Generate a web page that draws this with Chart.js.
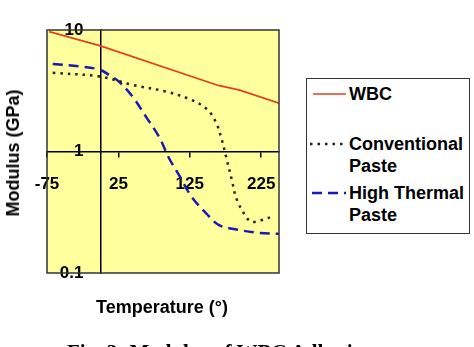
<!DOCTYPE html>
<html><head><meta charset="utf-8">
<script src="https://cdn.jsdelivr.net/npm/chart.js@4/dist/chart.umd.min.js"></script>
<style>
html,body{margin:0;padding:0;background:#fff;width:474px;height:347px;overflow:hidden;font-family:'Liberation Sans',Arial,sans-serif;}
#wrap{position:relative;width:474px;height:347px;}
#c{position:absolute;left:0;top:0;}
.t{position:absolute;font-weight:bold;color:#000;white-space:nowrap;font-size:18px;line-height:20px;}
#ytitle{left:13px;top:153px;transform:translate(-50%,-50%) rotate(-90deg);}
#xtitle{left:162px;top:307px;transform:translate(-50%,-50%);}
#legend{position:absolute;left:306px;top:78px;width:164px;height:156px;border:1px solid #333;background:#fff;box-sizing:border-box;}
#legend svg{position:absolute;left:0;top:0;}
.lt{position:absolute;left:42px;font-weight:bold;font-size:18px;line-height:20px;color:#000;white-space:nowrap;transform:translateY(-50%);}
#caption{position:absolute;left:67px;top:342px;font-family:'Liberation Serif','Times New Roman',serif;font-weight:bold;font-size:21px;line-height:1;color:#000;white-space:nowrap;}
</style></head>
<body><div id="wrap">
<canvas id="c" width="474" height="347"></canvas>
<div class="t" id="ytitle">Modulus (GPa)</div>
<div class="t" id="xtitle">Temperature (°)</div>
<div id="legend">
<svg width="164" height="156">
<line x1="6" y1="15" x2="39" y2="15" stroke="#e0401e" stroke-width="1.5"/>
<line x1="3" y1="65" x2="39" y2="65" stroke="#222" stroke-width="2.5" stroke-dasharray="2.5,5"/>
<line x1="5" y1="114" x2="39" y2="114" stroke="#1a1ab0" stroke-width="2.5" stroke-dasharray="10,6"/>
</svg>
<div class="lt" id="l1" style="top:15px"></div>
<div class="lt" id="l2" style="top:65px"></div>
<div class="lt" id="l3" style="top:87px"></div>
<div class="lt" id="l4" style="top:114px"></div>
<div class="lt" id="l5" style="top:136px"></div>
</div>
<div id="caption">Fig. 3: Modulus of WBC Adhesives</div>
</div>
<script>
// ---- data ----
const seriesNames = ["WBC", "Conventional Paste", "High Thermal Paste"];
const wbcTemp = [-72, 0, 165, 195, 250];
const wbcModulus = [9.7, 7.4, 3.5, 3.2, 2.5];
const convTemp = [-67, 0, 45, 92, 128, 150, 162, 170, 176, 184, 191, 204, 212, 226, 243];
const convModulus = [4.45, 4.13, 3.53, 3.11, 2.65, 2.2, 1.72, 1.24, 0.9, 0.58, 0.4, 0.29, 0.263, 0.273, 0.295];
const highTemp = [-67, -25, 0, 12, 26, 45, 64, 82, 96, 110, 128, 148, 166, 194, 222, 250];
const highModulus = [5.25, 4.99, 4.69, 4.26, 3.75, 2.82, 1.92, 1.32, 0.88, 0.64, 0.42, 0.31, 0.248, 0.226, 0.214, 0.21];
const xTicks = [-75, 25, 125, 225];
const yTicks = [0.1, 1, 10];
const yTickLabels = ["0.1", "1", "10"];

document.getElementById('l1').textContent = "WBC";
document.getElementById('l2').textContent = "Conventional";
document.getElementById('l3').textContent = "Paste";
document.getElementById('l4').textContent = "High Thermal";
document.getElementById('l5').textContent = "Paste";

const pts = (xs, ys) => xs.map((x, i) => ({x: x, y: ys[i]}));

const plotBg = {
  id: 'plotBg',
  beforeDraw(chart) {
    const {ctx, chartArea: a} = chart;
    ctx.save();
    ctx.fillStyle = '#ffff9e';
    ctx.fillRect(a.left, a.top, a.right - a.left, a.bottom - a.top);
    ctx.restore();
  },
  afterDraw(chart) {
    const {ctx, chartArea: a} = chart;
    ctx.save();
    ctx.strokeStyle = '#333';
    ctx.lineWidth = 1.5;
    ctx.strokeRect(a.left, a.top, a.right - a.left, a.bottom - a.top);
    ctx.restore();
  }
};

const tickFont = {family: "'Liberation Sans', Arial, sans-serif", size: 17, weight: 'bold'};

new Chart(document.getElementById('c'), {
  type: 'line',
  data: {
    datasets: [
      {label: seriesNames[0], data: pts(wbcTemp, wbcModulus), borderColor: '#e0401e', borderWidth: 1.6, pointRadius: 0, tension: 0, xAxisID: 'x', yAxisID: 'y'},
      {label: seriesNames[1], data: pts(convTemp, convModulus), borderColor: '#222', borderWidth: 2.5, borderDash: [2.5, 5], pointRadius: 0, tension: 0.35, xAxisID: 'x', yAxisID: 'y'},
      {label: seriesNames[2], data: pts(highTemp, highModulus), borderColor: '#1a1ab0', borderWidth: 2.5, borderDash: [10, 6], pointRadius: 0, tension: 0.35, xAxisID: 'x', yAxisID: 'y'}
    ]
  },
  options: {
    responsive: false,
    animation: false,
    devicePixelRatio: 1,
    layout: {padding: {left: 47, top: 30, right: 195, bottom: 74}},
    plugins: {legend: {display: false}, tooltip: {enabled: false}},
    scales: {
      x: {
        type: 'linear', min: -75, max: 250,
        position: {y: 1},
        afterBuildTicks: s => { s.ticks = xTicks.map(v => ({value: v})); },
        grid: {drawOnChartArea: false, drawTicks: true, tickLength: 5, color: '#000', lineWidth: 1.5},
        border: {display: true, color: '#000', width: 1.5},
        ticks: {font: tickFont, color: '#000', padding: 18, maxRotation: 0, autoSkip: false}
      },
      y: {
        type: 'logarithmic', min: 0.1, max: 10,
        position: {x: -24},
        afterBuildTicks: s => { s.ticks = yTicks.map(v => ({value: v})); },
        grid: {display: false, drawTicks: false},
        border: {display: false},
        ticks: {font: tickFont, color: '#000', padding: 0, autoSkip: false,
          callback: (v) => { const i = yTicks.indexOf(v); return i >= 0 ? yTickLabels[i] : ''; }}
      },
      yLine: {
        type: 'logarithmic', min: 0.1, max: 10,
        position: {x: 0},
        grid: {drawOnChartArea: false, drawTicks: false},
        border: {display: true, color: '#000', width: 1.5},
        ticks: {display: false}
      }
    }
  },
  plugins: [plotBg]
});
</script>
</body></html>
